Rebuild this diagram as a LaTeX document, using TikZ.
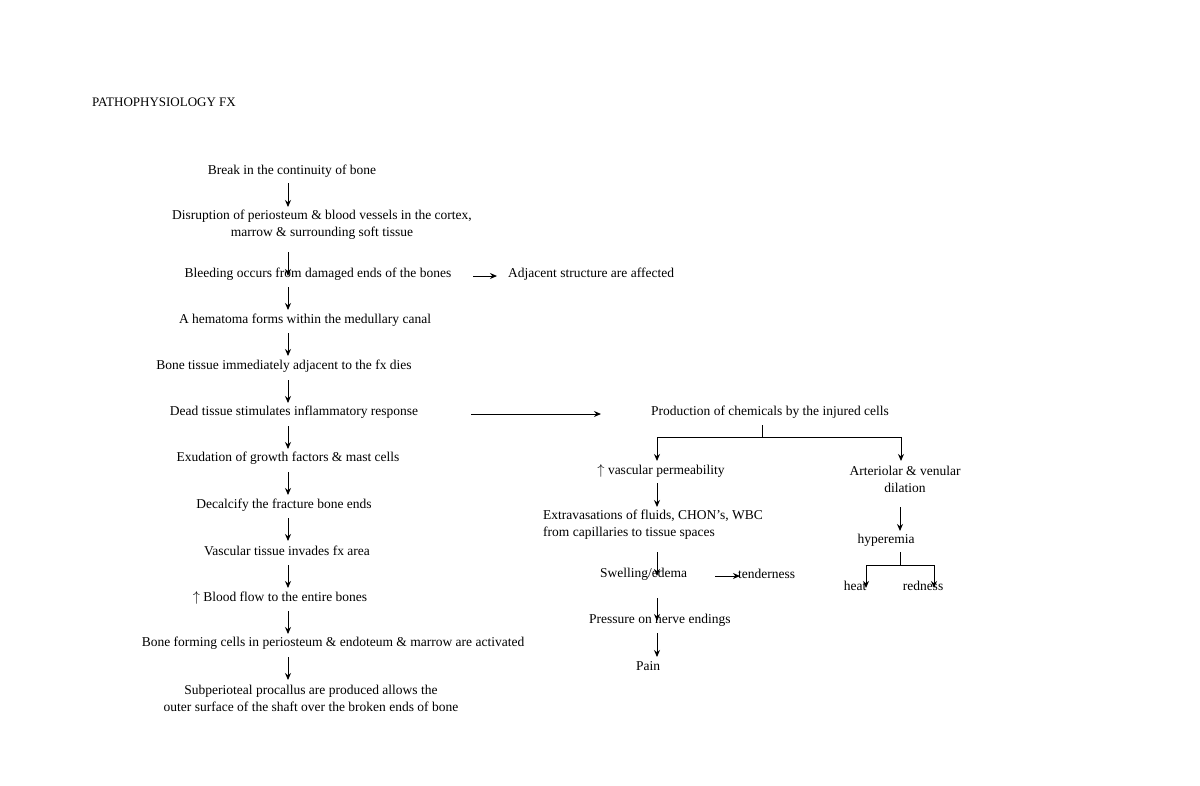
\documentclass[tikz,border=0pt]{standalone}
\usepackage{fontspec}
\setmainfont{Liberation Serif}
\usetikzlibrary{arrows.meta}
\begin{document}
\begin{tikzpicture}[x=1pt,y=-1pt,
  t/.style={inner sep=0pt,font=\fontsize{13.5}{17}\selectfont,align=center},
  tl/.style={t,anchor=west,align=left},
  ar/.style={-{Stealth[length=7pt,width=6pt]},line width=1pt},
  ln/.style={line width=1pt}]
\useasboundingbox (0,0) rectangle (1200,785);
\node[tl,font=\fontsize{13}{15}\selectfont] (title) at (92,102) {PATHOPHYSIOLOGY FX};
% left column
\node[t] (n1) at (292,171) {Break in the continuity of bone};
\node[t] (n2) at (322,225) {Disruption of periosteum \& blood vessels in the cortex,\\marrow \& surrounding soft tissue};
\node[t] (n3) at (318,274) {Bleeding occurs from damaged ends of the bones};
\node[tl] (n3b) at (508,274) {Adjacent structure are affected};
\node[t] (n4) at (305,320) {A hematoma forms within the medullary canal};
\node[t] (n5) at (284,366) {Bone tissue immediately adjacent to the fx dies};
\node[t] (n6) at (294,412) {Dead tissue stimulates inflammatory response};
\node[t] (n7) at (288,458) {Exudation of growth factors \& mast cells};
\node[t] (n8) at (284,505) {Decalcify the fracture bone ends};
\node[t] (n9) at (287,551) {Vascular tissue invades fx area};
\node[t] (n10) at (280,598) {$\uparrow$ Blood flow to the entire bones};
\node[t] (n11) at (333,643) {Bone forming cells in periosteum \& endoteum \& marrow are activated};
\node[t] (n12) at (311,698) {Subperioteal procallus are produced allows the\\outer surface of the shaft over the broken ends of bone};
\foreach \a/\b in {183/207,252/276,287/310,333/356,380/403,426/449,472/495,518/541,565/588,611/634,657/680}{
  \coordinate (s\a) at (288,\a); \coordinate (e\a) at (288,\b);
  \draw[ar] (s\a) -- (e\a);}
\coordinate (h1) at (473,276); \coordinate (h2) at (497,276);
\draw[ar] (h1) -- (h2);
\coordinate (d1) at (471,414); \coordinate (d2) at (601,414);
\draw[ar] (d1) -- (d2);
% right
\node[t] (p) at (770,412) {Production of chemicals by the injured cells};
\coordinate (p1) at (762,425); \coordinate (p2) at (762,437);
\coordinate (pl) at (657,437); \coordinate (pr) at (901,437);
\coordinate (pl2) at (657,461); \coordinate (pr2) at (901,461);
\draw[ln] (p1) -- (p2); \draw[ln] (pl) -- (pr);
\draw[ar] (pl) -- (pl2); \draw[ar] (pr) -- (pr2);
\node[t] (vp) at (661,471) {$\uparrow$ vascular permeability};
\node[t] (av) at (905,479) {Arteriolar \& venular\\dilation};
\node[tl] (ex) at (543,525) {Extravasations of fluids, CHON’s, WBC\\from capillaries to tissue spaces};
\node[tl] (sw) at (600,574) {Swelling/edema};
\node[tl] (te) at (738,574) {tenderness};
\node[tl] (pr) at (589,620) {Pressure on nerve endings};
\node[tl] (pa) at (636,666) {Pain};
\node[t] (hy) at (886,540) {hyperemia};
\node[t] (he) at (855,586) {heat};
\node[t] (re) at (923,586) {redness};
\foreach \a/\b in {483/507,552/576,598/621,633/657}{
  \coordinate (r\a) at (657,\a); \coordinate (q\a) at (657,\b);
  \draw[ar] (r\a) -- (q\a);}
\coordinate (t1) at (715,576); \coordinate (t2) at (740,576);
\draw[ar] (t1) -- (t2);
\coordinate (y1) at (900,507); \coordinate (y2) at (900,531);
\draw[ar] (y1) -- (y2);
\coordinate (z1) at (900,552); \coordinate (z2) at (900,565);
\coordinate (zl) at (866,565); \coordinate (zr) at (934,565);
\coordinate (zl2) at (866,588); \coordinate (zr2) at (934,588);
\draw[ln] (z1) -- (z2); \draw[ln] (zl) -- (zr);
\draw[ar] (zl) -- (zl2); \draw[ar] (zr) -- (zr2);
\end{tikzpicture}
\end{document}
